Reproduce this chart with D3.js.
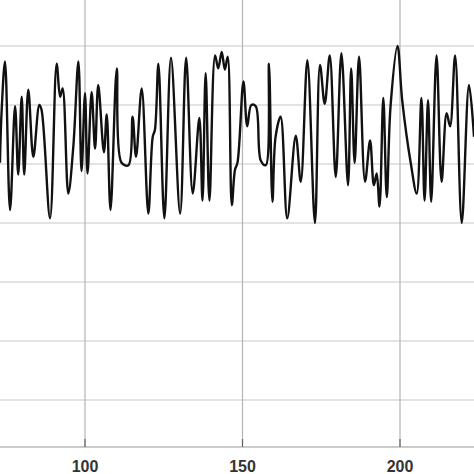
<!DOCTYPE html>
<html>
<head>
<meta charset="utf-8">
<script src="https://cdn.jsdelivr.net/npm/d3@7"></script>
<style>
  body { margin: 0; background: #fff; }
  text { font-family: "Liberation Sans", Arial, sans-serif; }
</style>
</head>
<body>
<svg width="474" height="474"></svg>
<script>
// signal
const xs = [73.0,73.5,74.6,76.2,77.8,78.8,79.9,80.7,82.0,83.6,85.5,86.2,88.9,91.0,92.1,92.9,94.7,96.3,97.9,98.9,
  100.0,100.8,102.1,103.2,104.2,106.0,106.9,108.1,110.1,111.6,113.8,115.1,116.2,118.0,120.1,121.5,122.2,123.3,125.2,127.3,
  130.2,132.1,134.2,136.3,137.3,138.3,139.5,141.3,142.3,143.4,144.4,145.3,146.6,147.6,148.4,150.3,151.5,152.8,154.2,155.8,
  157.4,158.4,159.5,160.5,162.1,164.2,166.9,168.5,170.6,173.0,174.6,176.1,177.7,179.6,181.4,183.5,184.5,185.6,187.0,188.9,
  190.5,191.7,192.6,193.5,194.7,195.8,197.0,199.2,200.7,203.4,205.3,206.8,207.8,208.9,209.9,211.6,213.2,214.8,215.9,217.5,
  219.6,221.9,223.5];
const ys = [0.01,0.43,0.87,-0.39,0.49,-0.09,0.57,-0.09,0.63,0.06,0.50,0.46,-0.46,0.85,0.57,0.64,-0.25,0.15,0.87,-0.06,
  0.60,-0.08,0.61,0.13,0.67,0.10,0.42,-0.39,0.81,0.01,-0.01,0.40,0.06,0.64,-0.42,0.23,0.29,0.85,-0.46,0.90,
  -0.42,0.90,-0.25,0.39,-0.31,0.77,-0.31,0.92,0.81,0.95,0.80,0.91,-0.35,-0.05,0.01,0.70,0.32,0.50,0.49,0.03,
  -0.01,0.85,-0.32,0.23,0.40,-0.46,0.24,-0.15,0.88,-0.50,0.84,0.51,0.92,-0.11,0.94,-0.18,0.81,0.01,0.91,-0.15,
  0.20,-0.18,-0.08,-0.36,0.56,-0.28,0.49,1.00,0.54,0.01,-0.25,0.56,-0.31,0.54,-0.32,0.92,-0.15,0.43,0.32,0.92,
  -0.50,0.67,0.23];
const xTicks = [100, 150, 200];
const yTicks = [1, 0.5, 0, -0.5, -1, -1.5, -2];

const svg = d3.select("svg");
const x = d3.scaleLinear().domain([100, 150]).range([85, 242.5]);
const y = d3.scaleLinear().domain([0, 1]).range([164, 46]);
const bottom = 447;

svg.append("g").selectAll("line").data(yTicks).join("line")
  .attr("x1", 0).attr("x2", 474)
  .attr("y1", d => y(d)).attr("y2", d => y(d))
  .attr("stroke", "#c8c8c8").attr("stroke-width", 1.2);

svg.append("g").selectAll("line").data(xTicks).join("line")
  .attr("x1", d => x(d)).attr("x2", d => x(d))
  .attr("y1", 0).attr("y2", bottom)
  .attr("stroke", "#b4b4b4").attr("stroke-width", 1.2);

svg.append("line").attr("x1", 0).attr("x2", 474).attr("y1", bottom).attr("y2", bottom)
  .attr("stroke", "#9a9a9a").attr("stroke-width", 1.2);

svg.append("g").selectAll("line").data(xTicks).join("line")
  .attr("x1", d => x(d)).attr("x2", d => x(d))
  .attr("y1", bottom - 8).attr("y2", bottom)
  .attr("stroke", "#666").attr("stroke-width", 1.2);

svg.append("g").selectAll("text").data(xTicks).join("text")
  .attr("x", d => x(d)).attr("y", 472)
  .attr("text-anchor", "middle")
  .attr("font-size", 16).attr("font-weight", "bold").attr("fill", "#333")
  .text(d => d);

const line = d3.line()
  .x((d, i) => x(xs[i]))
  .y((d, i) => y(ys[i]))
  .curve(d3.curveCatmullRom.alpha(0.5));

svg.append("path").datum(ys)
  .attr("d", line)
  .attr("fill", "none").attr("stroke", "#111").attr("stroke-width", 2.4);
</script>
</body>
</html>
